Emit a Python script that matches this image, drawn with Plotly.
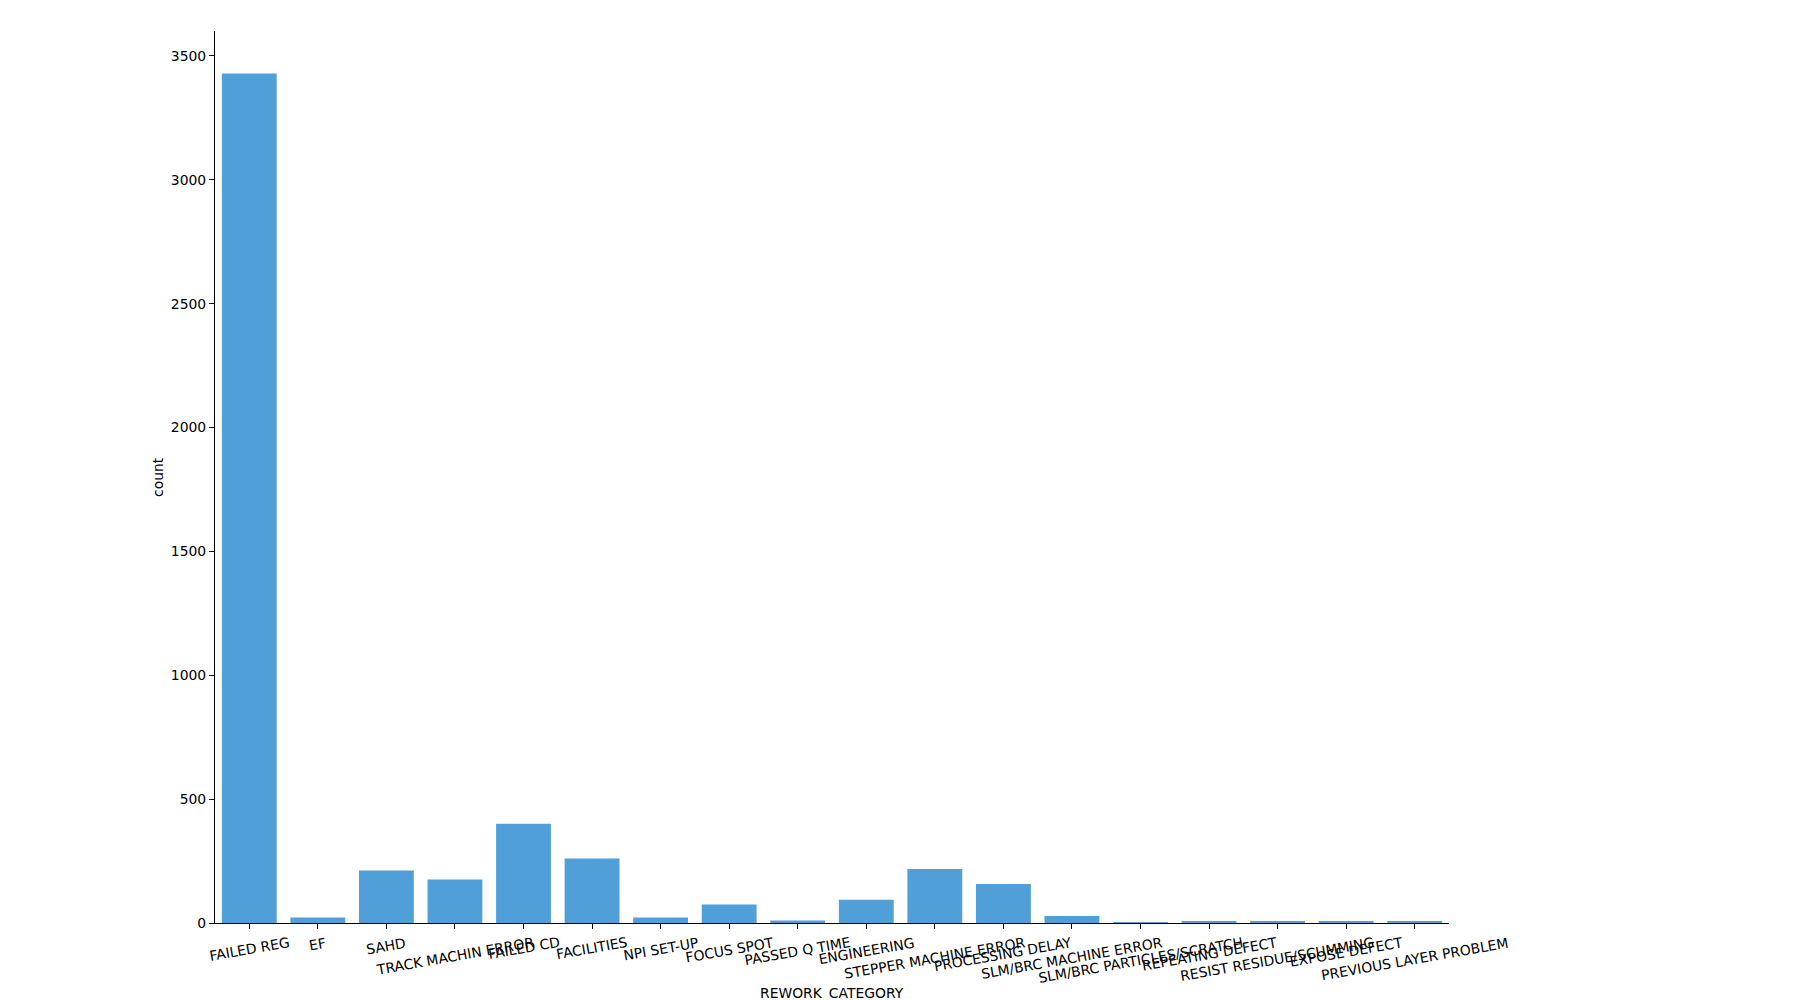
import plotly.graph_objects as go

categories = [
    "FAILED REG", "EF", "SAHD", "TRACK MACHIN ERROR", "FAILED CD", "FACILITIES",
    "NPI SET-UP", "FOCUS SPOT", "PASSED Q TIME", "ENGINEERING",
    "STEPPER MACHINE ERROR", "PROCESSING DELAY", "SLM/BRC MACHINE ERROR",
    "SLM/BRC PARTICLES/SCRATCH", "REPEATING DEFECT", "RESIST RESIDUE/SCUMMING",
    "EXPOSE DEFECT", "PREVIOUS LAYER PROBLEM",
]
counts = [3429, 22, 212, 176, 401, 260, 22, 75, 10, 94, 218, 157, 28, 4, 8, 5, 5, 8]
y_ticks = [0, 500, 1000, 1500, 2000, 2500, 3000, 3500]

FONT = "DejaVu Sans"
FS = 13.9
BAR = "rgb(81,159,216)"

# page body has an 8px margin, so positions are shifted accordingly
OFF = 8
W, H = 1800, 1000
L, R, T, B = 215 - OFF, 1449 - OFF, 31 - OFF, 923 - OFF

fig = go.Figure(go.Bar(x=list(range(len(categories))), y=counts,
                       marker=dict(color=BAR, line=dict(width=0)),
                       width=0.8, hoverinfo="x+y"))

fig.update_layout(
    width=W, height=H,
    margin=dict(l=L, r=W - R, t=T, b=H - B, pad=0),
    plot_bgcolor="white", paper_bgcolor="white",
    font=dict(family=FONT, size=FS, color="black"),
    showlegend=False,
)
fig.update_xaxes(
    range=[-0.5, len(categories) - 0.5],
    tickmode="array", tickvals=list(range(len(categories))),
    showticklabels=False,
    ticks="outside", ticklen=5, tickwidth=1.1, tickcolor="black",
    showline=True, linecolor="black", linewidth=1.1,
    showgrid=False, zeroline=False,
)
fig.update_yaxes(
    range=[0, 3600.5],
    tickmode="array", tickvals=y_ticks, ticktext=[str(v) for v in y_ticks],
    ticks="outside", ticklen=5, tickwidth=1.1, tickcolor="black",
    showline=True, linecolor="black", linewidth=1.1,
    showgrid=False, zeroline=False,
    tickfont=dict(family=FONT, size=FS, color="black"),
)

ph = B - T
annotations = []
for i, c in enumerate(categories):
    annotations.append(dict(
        x=i, xref="x", y=0, yref="paper", yshift=-9,
        text=c, showarrow=False, textangle=-10,
        xanchor="center", yanchor="top",
        font=dict(family=FONT, size=FS, color="black"),
    ))
annotations.append(dict(
    x=0.5, xref="paper", y=(B - (993 - OFF)) / ph, yref="paper",
    text="REWORK_CATEGORY", showarrow=False,
    xanchor="center", yanchor="middle",
    font=dict(family=FONT, size=FS, color="black"),
))
annotations.append(dict(
    x=(158 - OFF - L) / (R - L), xref="paper", y=0.5, yref="paper",
    text="count", showarrow=False, textangle=-90,
    xanchor="center", yanchor="middle",
    font=dict(family=FONT, size=FS, color="black"),
))
fig.update_layout(annotations=annotations)

fig.write_html("out.html")
